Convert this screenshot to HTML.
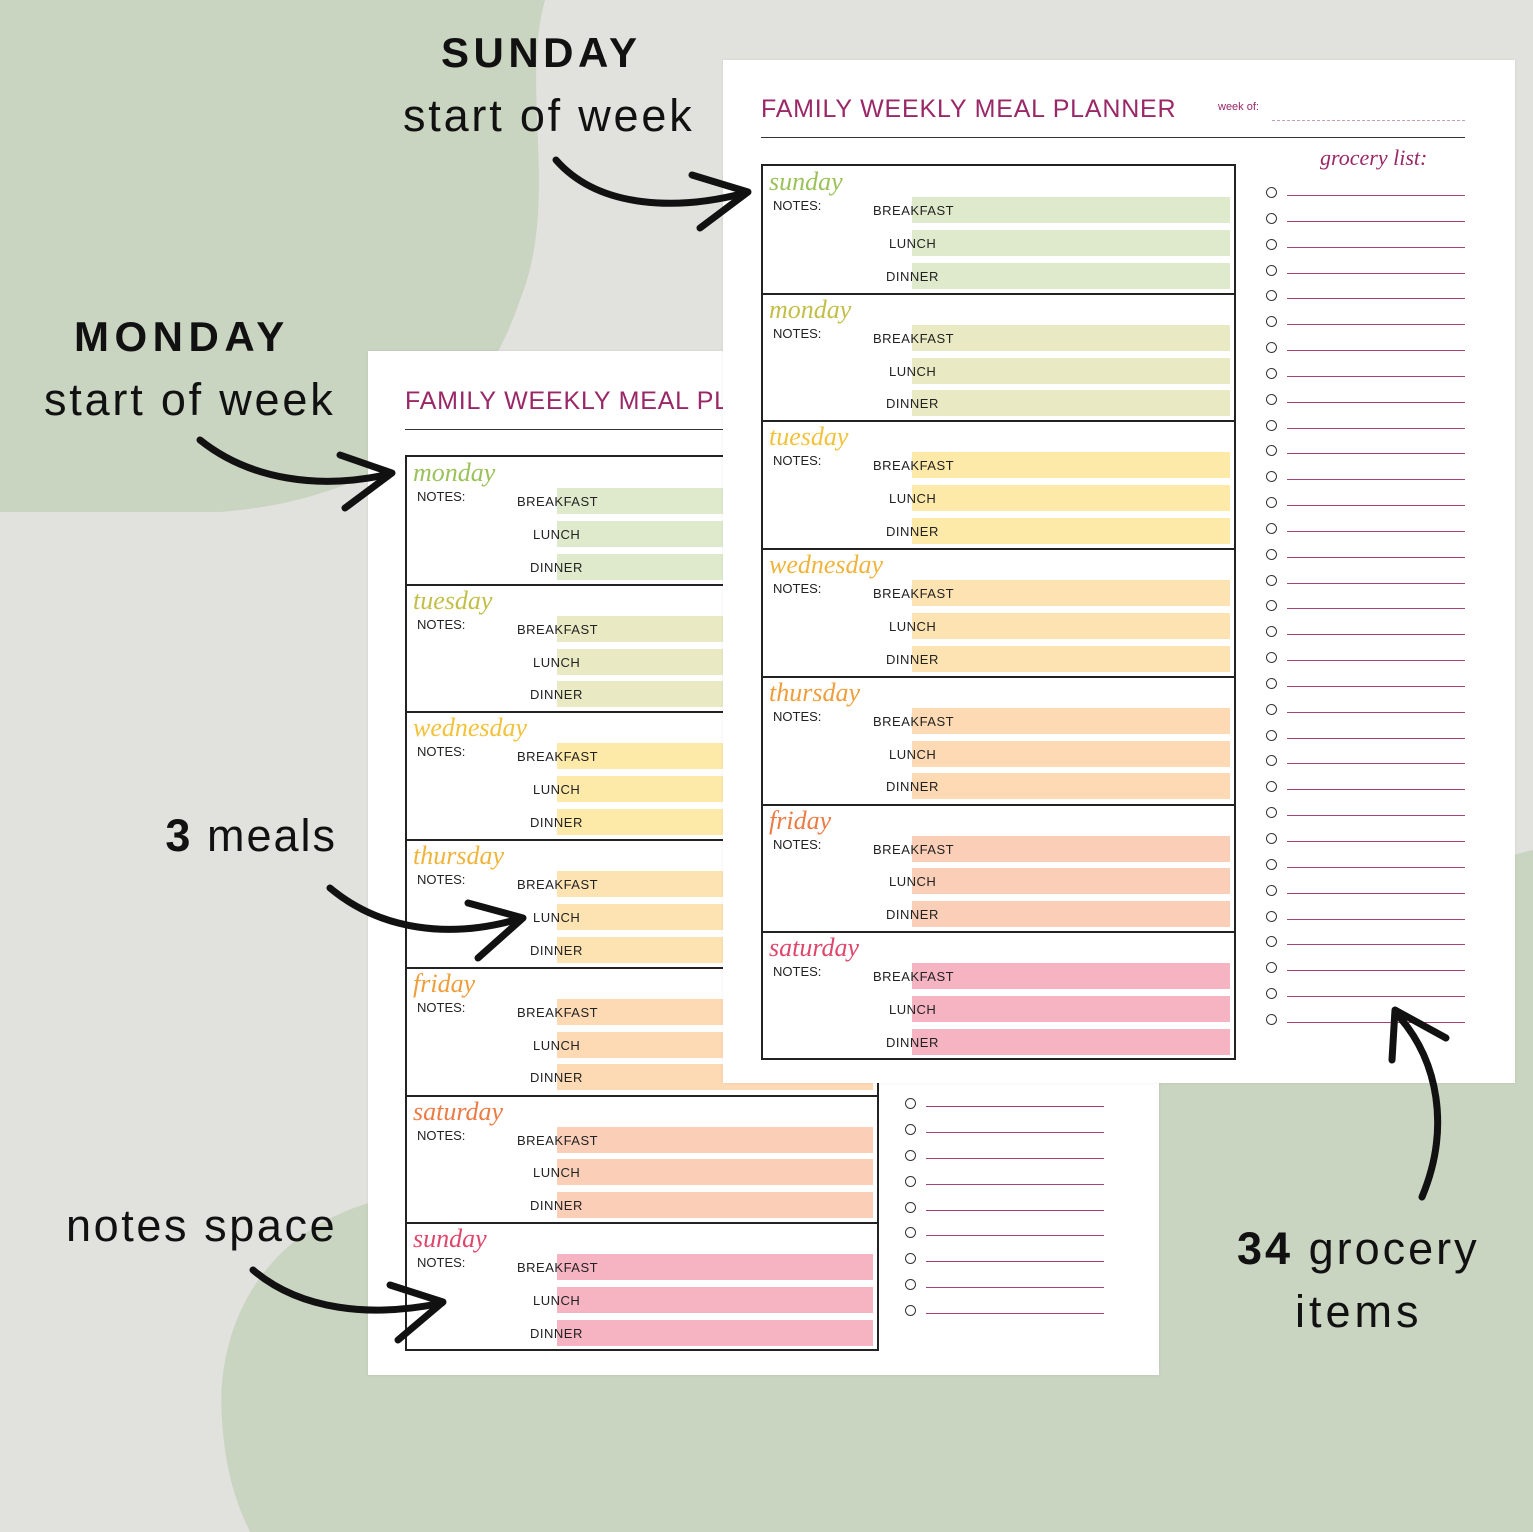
<!DOCTYPE html>
<html><head><meta charset="utf-8"><style>
html,body{margin:0;padding:0}
body{width:1533px;height:1532px;position:relative;overflow:hidden;background:#e1e2dd;font-family:"Liberation Sans",sans-serif}
.abs{position:absolute}
.page{position:absolute;background:#fff;box-shadow:0 0 3px rgba(0,0,0,0.08)}
.title{position:absolute;color:#9a2867;font-size:25px;letter-spacing:0.8px;white-space:nowrap}
.ann{position:absolute;color:#111;font-size:45px;white-space:nowrap;line-height:1}
.box{position:absolute;border:2px solid #222;box-sizing:border-box}
.row{position:absolute;left:0;right:0;border-bottom:2px solid #222;box-sizing:border-box}
.dname{position:absolute;font-family:"Liberation Serif",serif;font-style:italic;font-size:26px;white-space:nowrap}
.notes{position:absolute;font-size:13px;color:#222}
.bar{position:absolute;height:26px}
.ml{position:absolute;font-size:13px;color:#222;letter-spacing:0.5px}
.circ{position:absolute;width:11px;height:11px;border:1.5px solid #333;border-radius:50%;box-sizing:border-box}
.gl{position:absolute;height:1px;background:#a8417a}
</style></head><body>
<svg class="abs" style="left:0;top:0" width="1533" height="1532">
<path d="M0 0 H545 C520 90 560 200 520 300 C480 420 380 500 220 512 L0 512 Z" fill="#c9d4c1"/>
<path d="M1533 850 C1400 880 1300 1000 1200 1060 C1000 1180 600 1180 380 1200 C260 1230 215 1330 222 1420 C226 1480 240 1510 250 1532 L1533 1532 Z" fill="#c9d4c1"/>
</svg>

<div class="page" id="back" style="left:368px;top:351px;width:791px;height:1024px"></div>
<div class="page" id="front" style="left:723px;top:60px;width:792px;height:1023px"></div>

<div class="ann" style="left:441px;top:32px;font-weight:bold;font-size:42px;letter-spacing:4.5px">SUNDAY</div>
<div class="ann" style="left:403px;top:93px;letter-spacing:2.8px">start of week</div>
<div class="ann" style="left:74px;top:316px;font-weight:bold;font-size:42px;letter-spacing:5.5px">MONDAY</div>
<div class="ann" style="left:44px;top:377px;letter-spacing:2.8px">start of week</div>
<div class="ann" style="right:1196px;top:813px;letter-spacing:2px"><b>3</b> meals</div>
<div class="ann" style="left:66px;top:1203px;letter-spacing:2.6px">notes space</div>
<div class="ann" style="left:1237px;top:1226px;letter-spacing:3px"><b>34</b> grocery</div>
<div class="ann" style="left:1295px;top:1289px;letter-spacing:4px">items</div>

<svg class="abs" style="left:0;top:0;pointer-events:none" width="1533" height="1532">
<g fill="none" stroke="#111" stroke-width="7" stroke-linecap="round" stroke-linejoin="round">
<path d="M556 160 C600 210 680 210 745 193"/><path d="M692 175 L748 192 L700 228"/>
<path d="M200 440 C250 480 320 490 390 474"/><path d="M340 455 L392 473 L345 508"/>
<path d="M330 888 C380 930 450 940 522 918"/><path d="M468 903 L523 918 L478 958"/>
<path d="M253 1270 C300 1310 370 1318 442 1303"/><path d="M390 1285 L443 1302 L398 1340"/>
<path d="M1422 1197 C1450 1130 1440 1060 1395 1012"/><path d="M1392 1060 L1395 1010 L1446 1038"/>
</g></svg>

<script>
const days1=["sunday","monday","tuesday","wednesday","thursday","friday","saturday"];
const days2=["monday","tuesday","wednesday","thursday","friday","saturday","sunday"];
const barColors=["#dfeacd","#e9eac3","#fde9a8","#fde3b2","#fdd9b4","#fbceb8","#f6b3c2"];
const nameColors=["#9bc25a","#c2bf48","#f2c23a","#f0b43c","#ef9e3b","#ec7b45","#df466b"];
const meals=["BREAKFAST","LUNCH","DINNER"];
const mealOffsets=[0,16,13];
function mk(parent,cls,css,name,text){const e=document.createElement('div');e.className=cls;e.style.cssText=css;


if(text)e.textContent=text;parent.appendChild(e);return e;}
function build(p,days,o){
 mk(p,'title',`left:${o.tx}px;top:${o.ty}px`,'planner-title','FAMILY WEEKLY MEAL PLANNER');
 mk(p,'abs',`left:${o.tx}px;top:${o.ly}px;width:${o.lw}px;height:1px;background:#333`,'title-underline');
 const box=mk(p,'box',`left:${o.bx}px;top:${o.by}px;width:${o.bw}px;height:${o.bh}px`,'day-grid');
 const rh=(o.bh-2)/7;
 days.forEach((d,i)=>{
  const r=mk(box,'row',`top:${i*rh}px;height:${rh+1}px;${i==6?'border-bottom:none':''}`,'day-row-'+d);
  mk(r,'dname',`left:6px;top:1px;color:${nameColors[i]}`,'day-name-'+d,d);
  mk(r,'notes',`left:10px;top:32px`,'notes-label','NOTES:');
  meals.forEach((m,j)=>{
   const y=31+j*32.8;
   mk(r,'bar',`left:${o.barL}px;width:${o.bw-o.barL-8}px;top:${y}px;background:${barColors[i]}`,'meal-field-'+m.toLowerCase());
   mk(r,'ml',`left:${o.labL+mealOffsets[j]}px;top:${y+6}px`,'meal-label-'+m.toLowerCase(),m);
  });
 });
 for(let k=0;k<33;k++){
  const y=o.cy+k*25.84;
  mk(p,'circ',`left:${o.cx}px;top:${y}px`,'grocery-checkbox');
  mk(p,'gl',`left:${o.cx+21}px;top:${y+8}px;width:178px`,'grocery-line');
 }
}
const front=document.getElementById('front'),back=document.getElementById('back');
build(back,days2,{tx:37,ty:36,ly:78,lw:420,bx:37,by:104,bw:474,bh:896,barL:150,labL:110,cx:537,cy:127});
build(front,days1,{tx:38,ty:35,ly:77,lw:704,bx:38,by:104,bw:475,bh:896,barL:149,labL:110,cx:543,cy:127});
mk(front,'abs','left:495px;top:41px;font-size:11px;color:#9a2867','week-of-label','week of:');
mk(front,'abs','left:549px;top:60px;width:193px;border-top:1px dashed #c9a0b5','week-of-field');
mk(front,'dname','left:597px;top:85px;color:#9a2867;font-size:22px','grocery-list-title','grocery list:');
</script>
</body></html>
